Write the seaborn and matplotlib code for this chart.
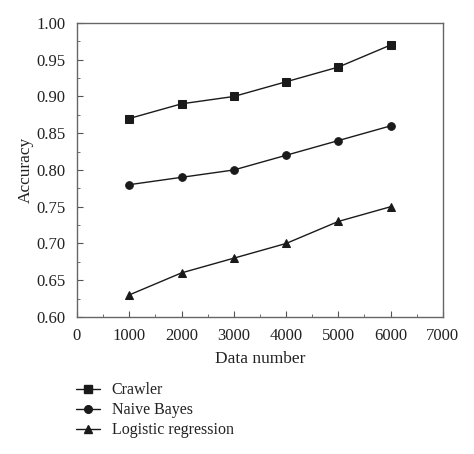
import numpy as np
import matplotlib
matplotlib.use('Agg')
import matplotlib.pyplot as plt
from matplotlib.ticker import MultipleLocator
from matplotlib.lines import Line2D
import seaborn as sns
import pandas as pd

# data
dataNumber = [1000, 2000, 3000, 4000, 5000, 6000]
crawler = [0.87, 0.89, 0.90, 0.92, 0.94, 0.97]
naiveBayes = [0.78, 0.79, 0.80, 0.82, 0.84, 0.86]
logistic = [0.63, 0.66, 0.68, 0.70, 0.73, 0.75]
names = ['Crawler', 'Naive Bayes', 'Logistic regression']
markers = ['s', 'o', '^']

df = pd.concat([pd.DataFrame({'Data number': dataNumber, 'Accuracy': vals, 'model': n})
                for n, vals in zip(names, [crawler, naiveBayes, logistic])], ignore_index=True)

sns.set_style('white')
plt.rcParams['font.family'] = ['Liberation Serif', 'DejaVu Serif']

fig = plt.figure(figsize=(4.74, 4.54), dpi=100)
ax = fig.add_axes([0.1624, 0.3018, 0.772, 0.6476])

sns.lineplot(df, x='Data number', y='Accuracy', hue='model', style='model',
             palette=['#1a1a1a']*3, markers=markers, dashes=False,
             markersize=5.5, markeredgecolor='#1a1a1a', linewidth=1.0, ax=ax, legend=False)

ax.set_xlim(0, 7000)
ax.set_ylim(0.60, 1.00)
ax.xaxis.set_major_locator(MultipleLocator(1000))
ax.xaxis.set_minor_locator(MultipleLocator(500))
ax.yaxis.set_major_locator(MultipleLocator(0.05))
ax.yaxis.set_minor_locator(MultipleLocator(0.025))
ax.yaxis.set_major_formatter(matplotlib.ticker.FormatStrFormatter('%.2f'))
ax.tick_params(which='both', direction='in', colors='#555555', labelcolor='#222222',
               labelsize=12, top=False, right=False, left=True, bottom=True, pad=8)
ax.tick_params(which='major', length=4)
ax.tick_params(which='minor', length=2.5)
for s in ax.spines.values():
    s.set_color('#666666')
    s.set_linewidth(1.0)

ax.set_xlabel('Data number', fontsize=12.5, color='#222222', labelpad=5)
ax.set_ylabel('Accuracy', fontsize=12.5, color='#222222', labelpad=2)

handles = [Line2D([], [], color='#1a1a1a', marker=m, markersize=5.5, linewidth=1.0)
           for m in markers]
fig.legend(handles, names, loc='upper left', bbox_to_anchor=(0.131, 0.19),
           frameon=False, fontsize=11.5, handlelength=1.5, handletextpad=0.7,
           labelspacing=0.25, labelcolor='#222222')

fig.savefig('out.png', dpi=100)
